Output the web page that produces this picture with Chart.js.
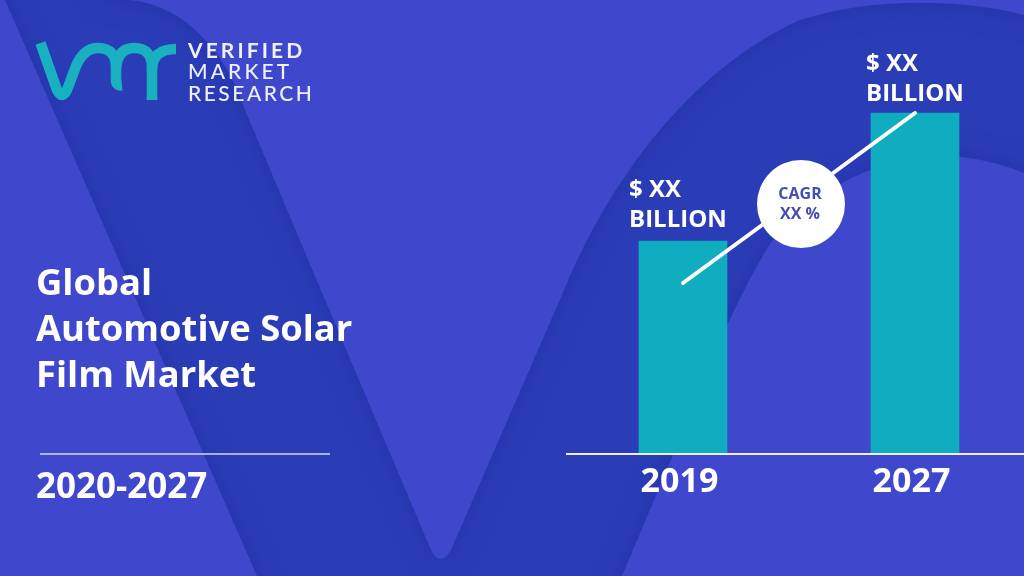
<!DOCTYPE html>
<html><head><meta charset="utf-8">
<style>html,body{margin:0;padding:0;width:1024px;height:576px;overflow:hidden;background:#3f48cc}canvas{display:block}</style>
<script src="https://cdn.jsdelivr.net/npm/chart.js@4"></script>
</head><body><div style="width:1024px;height:576px;position:relative;overflow:hidden"><canvas id="c" width="1031" height="576"></canvas></div>
<script>
const categories = ['2019', '2027'];
const marketValues = [21.3, 34.1];
const trendValues = [17.1, 34.1];
const valueLabels = ['$ XX', 'BILLION'];
const titleLines = ['Global', 'Automotive Solar', 'Film Market'];
const periodLabel = '2020-2027';
const logoLines = ['VERIFIED', 'MARKET', 'RESEARCH'];
const cagrLines = ['CAGR', 'XX %'];

const LIGHT = '#3f48cc', DARK = '#2b3cb7', TEAL = '#0fadbf', HEAD = '"Open Sans"';

function lightPiece(ctx, build) {
  ctx.save();
  ctx.shadowColor = 'rgba(28,40,150,0.45)';
  ctx.shadowBlur = 26;
  ctx.fillStyle = LIGHT;
  ctx.beginPath(); build(ctx); ctx.closePath(); ctx.fill();
  ctx.restore();
}

const backdrop = {
  id: 'backdrop',
  beforeDraw(chart) {
    const ctx = chart.ctx;
    ctx.save();
    ctx.fillStyle = DARK; ctx.fillRect(0, 0, 1031, 576);
    lightPiece(ctx, c => { c.moveTo(-60, -40); c.lineTo(-10, -40); c.lineTo(5, 0); c.lineTo(257, 576); c.lineTo(257, 640); c.lineTo(-60, 640); });
    lightPiece(ctx, c => {
      c.moveTo(100, -40); c.lineTo(100, 0); c.lineTo(130, 0);
      c.bezierCurveTo(175, 4, 222, 40, 245, 110);
      c.lineTo(320, 288); c.lineTo(431, 550);
      c.quadraticCurveTo(440, 568, 451, 550);
      c.lineTo(565, 288);
      c.bezierCurveTo(610, 180, 690, 70, 800, 20);
      c.bezierCurveTo(860, 0, 950, -4, 1024, 15);
      c.lineTo(1060, 25); c.lineTo(1060, -40);
    });
    lightPiece(ctx, c => {
      c.moveTo(610, 620); c.lineTo(622, 576); c.lineTo(673, 455);
      c.bezierCurveTo(700, 385, 735, 300, 770, 244);
      c.bezierCurveTo(810, 190, 880, 155, 950, 156);
      c.bezierCurveTo(975, 157, 1005, 165, 1024, 173);
      c.lineTo(1060, 190); c.lineTo(1060, 620);
    });
    ctx.restore();
  }
};

const furniture = {
  id: 'furniture',
  afterDraw(chart) {
    const ctx = chart.ctx;
    ctx.save();
    // logo mark
    ctx.strokeStyle = '#19b0bf'; ctx.lineWidth = 10.5; ctx.lineCap = 'butt'; ctx.lineJoin = 'round';
    ctx.beginPath();
    ctx.moveTo(40.5, 43); ctx.lineTo(57, 90); ctx.quadraticCurveTo(62, 100, 67, 90);
    ctx.lineTo(76, 66); ctx.quadraticCurveTo(84, 48, 98, 48); ctx.quadraticCurveTo(116, 48, 116, 68);
    ctx.lineTo(116, 80); ctx.quadraticCurveTo(116, 86, 122, 85.5);
    ctx.stroke();
    ctx.beginPath();
    ctx.moveTo(116, 68); ctx.quadraticCurveTo(118, 48, 134, 48); ctx.quadraticCurveTo(152, 48, 152, 68);
    ctx.lineTo(152, 100);
    ctx.stroke();
    ctx.beginPath();
    ctx.moveTo(152, 70); ctx.quadraticCurveTo(152, 49, 176, 49);
    ctx.stroke();
    // logo text
    ctx.fillStyle = '#eef0fb'; ctx.textAlign = 'left'; ctx.textBaseline = 'alphabetic';
    ctx.letterSpacing = '3.1px'; ctx.font = '700 21px Lato'; ctx.fillText(logoLines[0], 188, 57.5);
    ctx.letterSpacing = '3.1px'; ctx.font = '500 21px Lato'; ctx.fillText(logoLines[1], 188, 79);
    ctx.letterSpacing = '2.5px'; ctx.font = '500 21px Lato'; ctx.fillText(logoLines[2], 188, 100.5);
    ctx.letterSpacing = '0px';
    // title
    ctx.fillStyle = '#ffffff'; ctx.font = '700 36.4px ' + HEAD;
    [295, 341, 387].forEach((y, i) => ctx.fillText(titleLines[i], 36, y));
    ctx.font = '700 35px ' + HEAD; ctx.fillText(periodLabel, 36, 498);
    // separator
    ctx.strokeStyle = '#d5d8f3'; ctx.lineWidth = 1.5;
    ctx.beginPath(); ctx.moveTo(40, 454); ctx.lineTo(330, 454); ctx.stroke();
    // value labels tied to the bars
    const bars = chart.getDatasetMeta(0).data;
    ctx.fillStyle = '#ffffff'; ctx.font = '700 24px ' + HEAD;
    [[-54, -44, -14], [-49, -42, -12]].forEach((o, i) => {
      ctx.fillText(valueLabels[0], bars[i].x + o[0], bars[i].y + o[1]);
      ctx.fillText(valueLabels[1], bars[i].x + o[0], bars[i].y + o[2]);
    });
    // CAGR badge
    ctx.fillStyle = '#ffffff';
    ctx.beginPath(); ctx.arc(801, 204, 44, 0, Math.PI * 2); ctx.fill();
    ctx.fillStyle = '#444db5'; ctx.textAlign = 'center'; ctx.font = '700 16px ' + HEAD;
    ctx.fillText(cagrLines[0], 800, 199); ctx.fillText(cagrLines[1], 800, 219);
    ctx.restore();
  }
};

new Chart(document.getElementById('c'), {
  data: {
    labels: categories,
    datasets: [
      { type: 'bar', data: marketValues, backgroundColor: TEAL, barThickness: 88, order: 2 },
      { type: 'line', data: trendValues, borderColor: '#ffffff', borderWidth: 4, borderCapStyle: 'round', pointRadius: 0, tension: 0, order: 1 }
    ]
  },
  options: {
    responsive: false, animation: false, devicePixelRatio: 1,
    layout: { padding: { left: 567, right: 0, top: 0, bottom: 0 } },
    plugins: { legend: { display: false }, tooltip: { enabled: false } },
    scales: {
      x: {
        offset: true,
        afterFit(s) { s.height = 122; },
        border: { color: '#eef0fb', width: 2, z: 1 },
        grid: { display: false, drawTicks: false },
        ticks: { color: '#ffffff', padding: 8, labelOffset: -3.5, font: { family: 'Open Sans', weight: '700', size: 34 }, maxRotation: 0 }
      },
      y: { display: false, min: 0, max: 45.4 }
    }
  },
  plugins: [backdrop, furniture]
});
</script></body></html>
